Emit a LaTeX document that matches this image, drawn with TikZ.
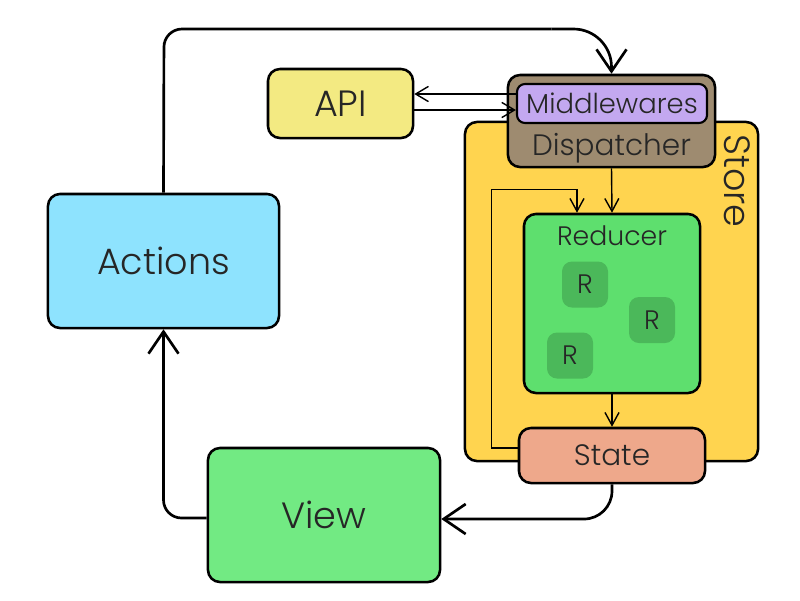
\documentclass[tikz,border=0pt]{standalone}
\usepackage{fontspec}
\setmainfont{Poppins}[UprightFont={* Light}]
\usepackage{xcolor}
\usetikzlibrary{arrows.meta,positioning}

\definecolor{actionsblue}{HTML}{8EE3FE}
\definecolor{apiyellow}{HTML}{F3EA82}
\definecolor{viewgreen}{HTML}{72EA83}
\definecolor{storeyellow}{HTML}{FFD44F}
\definecolor{dispbrown}{HTML}{9E8B70}
\definecolor{mwpurple}{HTML}{C3A8F0}
\definecolor{reducergreen}{HTML}{5EDF6E}
\definecolor{rgreen}{HTML}{4BB85A}
\definecolor{statesalmon}{HTML}{EEA88B}

\tikzset{
    box/.style={draw, line width=1.8pt, rounded corners=0.3cm, text=black!85, inner sep=0pt},
    bigtext/.style={font=\fontsize{26}{30}\selectfont},
    midtext/.style={font=\fontsize{21}{25}\selectfont},
    bigarrow/.style={line width=1.9pt, -{Straight Barb[length=5.5mm,width=7.5mm]}},
    smallarrow/.style={line width=1pt, -{Straight Barb[length=3.2mm,width=3.5mm]}},
}

\begin{document}
\begin{tikzpicture}[x=0.025cm, y=-0.025cm]
    \useasboundingbox (0,0) rectangle (800,600);

    % store
    \node[box, fill=storeyellow, minimum width=7.325cm, minimum height=8.475cm] (store) at (611.5,291.5) {};
    \node[bigtext, rotate=-90, text=black!85] (storelabel) at (737,181) {Store};

    % dispatcher and middlewares
    \node[box, fill=dispbrown, minimum width=5.175cm, minimum height=2.3cm] (dispatcher) at (611.5,121) {};
    \node[midtext, text=black!85] (displabel) at ([yshift=0.5cm]dispatcher.south) {Dispatcher};
    \node[box, font=\fontsize{19.5}{23}\selectfont, fill=mwpurple, line width=1.5pt, rounded corners=0.2cm,
        minimum width=4.75cm, minimum height=0.975cm] (middlewares) at (612,103.5) {Middlewares};

    % reducer
    \node[box, fill=reducergreen, minimum width=4.4cm, minimum height=4.475cm] (reducer) at (612,303.5) {};
    \node[font=\fontsize{19}{23}\selectfont, text=black!85] (reducerlabel) at ([yshift=-0.575cm]reducer.north) {Reducer};
    \foreach \name/\pos in {ra/{(585,284.5)}, rb/{(652,320)}, rc/{(570,355.5)}}
        \node[fill=rgreen, rounded corners=0.25cm, minimum size=1.15cm, text=black!85,
            font=\fontsize{19}{22}\selectfont] (\name) at \pos {R};

    % state
    \node[box, midtext, fill=statesalmon, minimum width=4.65cm, minimum height=1.375cm] (state) at (612,455.5) {State};

    % state back into reducer
    \coordinate (loopstart) at ([yshift=0.1875cm]state.west);
    \coordinate (loopend) at ([xshift=-0.875cm]reducer.north);
    \draw[smallarrow] (loopstart) -- ++(-26,0) |- ([yshift=0.575cm]loopend) -- (loopend);

    % outer boxes
    \node[box, bigtext, fill=actionsblue, minimum width=5.775cm, minimum height=3.35cm] (actions) at (163.5,261) {Actions};
    \node[box, bigtext, fill=apiyellow, minimum width=3.625cm, minimum height=1.725cm] (api) at (340.5,103.5) {API};
    \node[box, bigtext, fill=viewgreen, minimum width=5.8cm, minimum height=3.35cm] (view) at (324,515) {View};

    % connectors
    \coordinate (top) at (164,29);
    \draw[line width=1.9pt, rounded corners=0.45cm] (actions.north) -- (top) -- ([xshift=-1.5cm]top -| dispatcher.north);
    \draw[bigarrow, rounded corners=0.95cm] ([xshift=-1.5cm]top -| dispatcher.north) -- (top -| dispatcher.north) -- (dispatcher.north);

    \coordinate (mwup) at ([yshift=0.2375cm]middlewares.west);
    \coordinate (mwdown) at ([yshift=-0.1625cm]middlewares.west);
    \draw[line width=1.9pt, -{Straight Barb[length=3.2mm,width=3.8mm,line width=1pt]}] (mwup) -- (mwup -| api.east);
    \draw[line width=1.9pt, -{Straight Barb[length=3.2mm,width=3.8mm,line width=1pt]}] (mwdown -| api.east) -- (mwdown);

    \draw[smallarrow] (dispatcher.south) -- (reducer.north);
    \draw[smallarrow] (reducer.south) -- (state.north);

    \coordinate (viewin) at ([yshift=-0.1cm]view.east);
    \draw[bigarrow, rounded corners=0.7cm] (state.south) |- (viewin);
    \draw[bigarrow, rounded corners=0.45cm] ([yshift=-0.075cm]view.west) -| (actions.south);
\end{tikzpicture}
\end{document}
